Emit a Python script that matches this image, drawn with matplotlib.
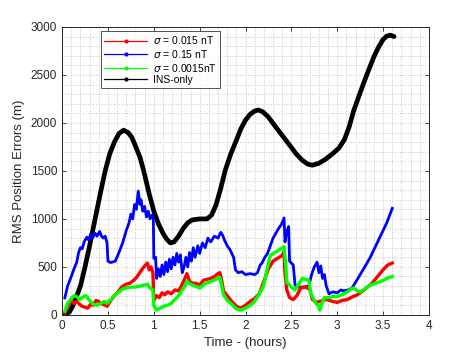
import matplotlib
matplotlib.use("Agg")
import matplotlib.pyplot as plt
from matplotlib.lines import Line2D
from matplotlib.ticker import MultipleLocator

plt.rcParams['font.family'] = ['Liberation Sans', 'DejaVu Sans']

# INS-only
t_ins = [0.03, 0.08, 0.12, 0.16, 0.2, 0.25, 0.3, 0.36, 0.42, 0.47, 0.52, 0.57, 0.62, 0.67, 0.72,
         0.76, 0.8, 0.85, 0.89, 0.95, 1.0, 1.05, 1.1, 1.14, 1.18, 1.22, 1.27, 1.32, 1.37, 1.42,
         1.5, 1.58, 1.63, 1.68, 1.73, 1.78, 1.84, 1.9, 1.95, 2.0, 2.05, 2.1, 2.14, 2.19, 2.25,
         2.32, 2.4, 2.48, 2.55, 2.62, 2.68, 2.73, 2.8, 2.87, 2.95, 3.02, 3.08, 3.13, 3.18, 3.24,
         3.29, 3.35, 3.4, 3.45, 3.5, 3.54, 3.58, 3.62]
e_ins = [0, 30, 100, 200, 300, 500, 720, 1000, 1280, 1500, 1680, 1800, 1890, 1925, 1900,
         1850, 1760, 1640, 1500, 1260, 1080, 950, 850, 790, 750, 760, 820, 900, 960, 990,
         1000, 1000, 1040, 1150, 1320, 1510, 1680, 1820, 1940, 2030, 2090, 2125, 2135, 2115, 2060,
         1970, 1870, 1770, 1680, 1610, 1570, 1560, 1580, 1620, 1680, 1740, 1830, 1960, 2130, 2290,
         2420, 2570, 2690, 2790, 2870, 2905, 2915, 2900]

# sigma = 0.15 nT
t_b = [0.03, 0.06, 0.10, 0.13, 0.16, 0.18, 0.20, 0.22, 0.24, 0.27, 0.29, 0.31, 0.33, 0.36, 0.38,
       0.41, 0.43, 0.45, 0.47, 0.49, 0.50, 0.53, 0.58, 0.62, 0.66, 0.70, 0.73, 0.75, 0.77, 0.79,
       0.81, 0.83, 0.85, 0.86, 0.88, 0.90, 0.92, 0.94, 0.96, 0.98, 0.995, 1.0, 1.02, 1.03, 1.05,
       1.07, 1.09, 1.11, 1.13, 1.15, 1.17, 1.19, 1.21, 1.23, 1.25, 1.27, 1.29, 1.31, 1.33, 1.35,
       1.37, 1.39, 1.41, 1.43, 1.45, 1.48, 1.50, 1.53, 1.56, 1.59, 1.62, 1.66, 1.70, 1.73, 1.75,
       1.77, 1.80, 1.83, 1.85, 1.87, 1.89, 1.92, 1.96, 2.0, 2.05, 2.1, 2.13, 2.16, 2.18, 2.21,
       2.24, 2.27, 2.30, 2.33, 2.36, 2.39, 2.42, 2.43, 2.45, 2.47, 2.48, 2.52, 2.54, 2.58, 2.64,
       2.69, 2.72, 2.75, 2.78, 2.80, 2.82, 2.84, 2.86, 2.88, 2.91, 2.95, 3.0, 3.04, 3.07, 3.12,
       3.16, 3.2, 3.25, 3.30, 3.36, 3.42, 3.48, 3.54, 3.6]
e_b = [177, 300, 400, 480, 550, 650, 700, 690, 760, 810, 780, 840, 800, 850, 820,
       870, 820, 800, 820, 750, 560, 545, 560, 650, 750, 880, 960, 1050, 1000, 1150,
       1100, 1290, 1150, 1200, 1080, 1130, 1020, 1080, 1000, 1040, 1000, 590, 600, 380, 480,
       400, 520, 420, 550, 450, 580, 480, 600, 520, 640, 550, 625, 440, 500, 600,
       500, 650, 560, 700, 600, 720, 640, 750, 700, 800, 760, 820, 800, 860, 830,
       780, 720, 680, 640, 600, 470, 440, 450, 420, 430, 420, 440, 520, 540, 600,
       640, 720, 800, 850, 900, 940, 1010, 760, 870, 920, 560, 520, 310, 290, 290,
       300, 420, 500, 550, 440, 510, 380, 420, 300, 220, 240, 230, 260, 250, 260,
       280, 340, 420, 500, 600, 720, 840, 960, 1110]

# sigma = 0.015 nT
t_r = [0.03, 0.06, 0.10, 0.13, 0.16, 0.19, 0.22, 0.25, 0.28, 0.31, 0.34, 0.37, 0.40, 0.42, 0.45,
       0.49, 0.53, 0.57, 0.61, 0.65, 0.70, 0.74, 0.78, 0.82, 0.86, 0.90, 0.93, 0.95, 0.97, 0.99,
       1.0, 1.03, 1.06, 1.09, 1.12, 1.15, 1.19, 1.23, 1.27, 1.30, 1.33, 1.36, 1.39, 1.42, 1.46,
       1.50, 1.54, 1.58, 1.62, 1.66, 1.70, 1.72, 1.74, 1.76, 1.80, 1.85, 1.90, 1.95, 2.0, 2.05,
       2.10, 2.15, 2.20, 2.25, 2.30, 2.35, 2.40, 2.42, 2.43, 2.45, 2.48, 2.52, 2.56, 2.60, 2.65,
       2.70, 2.73, 2.78, 2.84, 2.89, 2.95, 3.0, 3.05, 3.11, 3.17, 3.22, 3.28, 3.33, 3.38, 3.44,
       3.50, 3.55, 3.6]
e_r = [20, 90, 150, 120, 140, 110, 90, 80, 70, 110, 100, 150, 140, 120, 110,
       90, 150, 200, 240, 290, 320, 330, 360, 400, 460, 510, 540, 470, 500, 440,
       150, 200, 180, 230, 210, 240, 220, 260, 250, 300, 360, 430, 350, 330, 330,
       310, 360, 370, 380, 400, 430, 440, 360, 250, 200, 140, 90, 70, 100, 140,
       170, 220, 350, 480, 560, 590, 620, 660, 440, 260, 180, 160, 200, 280, 290,
       270, 160, 130, 150, 160, 140, 130, 150, 160, 190, 210, 250, 290, 330, 400,
       470, 520, 540]

# sigma = 0.0015 nT
t_g = [0.03, 0.06, 0.10, 0.13, 0.16, 0.19, 0.22, 0.25, 0.27, 0.30, 0.34, 0.38, 0.42, 0.46, 0.49,
       0.53, 0.57, 0.61, 0.66, 0.70, 0.75, 0.80, 0.85, 0.90, 0.93, 0.96, 0.99, 1.0, 1.03, 1.07,
       1.11, 1.15, 1.19, 1.23, 1.27, 1.31, 1.34, 1.36, 1.40, 1.45, 1.50, 1.55, 1.60, 1.65, 1.70,
       1.72, 1.74, 1.76, 1.80, 1.85, 1.90, 1.95, 2.0, 2.05, 2.09, 2.14, 2.20, 2.24, 2.27, 2.32,
       2.37, 2.42, 2.44, 2.45, 2.50, 2.54, 2.58, 2.62, 2.66, 2.69, 2.71, 2.74, 2.76, 2.79, 2.81,
       2.84, 2.86, 2.90, 2.95, 3.0, 3.05, 3.11, 3.15, 3.18, 3.22, 3.25, 3.30, 3.36, 3.42, 3.48,
       3.54, 3.6]
e_g = [40, 120, 170, 200, 190, 160, 180, 200, 190, 150, 110, 100, 120, 140, 120,
       160, 200, 230, 270, 280, 290, 290, 300, 310, 320, 280, 260, 100, 50, 70,
       90, 100, 120, 160, 200, 260, 300, 350, 320, 300, 280, 320, 340, 360, 380,
       390, 300, 210, 150, 110, 60, 50, 70, 100, 130, 200, 310, 500, 620, 650,
       680, 710, 500, 340, 290, 260, 320, 380, 370, 360, 230, 170, 130, 100, 50,
       140, 180, 180, 190, 190, 210, 240, 270, 280, 250, 240, 270, 310, 330, 350,
       380, 400]

labels = ['$\\sigma$ = 0.015 nT', '$\\sigma$ = 0.15 nT', '$\\sigma$ = 0.0015nT', 'INS-only']
colors = ['#ff0000', '#0000ff', '#00ff00', '#000000']

fig = plt.figure(figsize=(4.74, 3.55), dpi=100)
ax = fig.add_axes([0.131, 0.113, 0.774, 0.811])

ax.plot(t_ins, e_ins, color=colors[3], lw=3.4, solid_capstyle='round',
        solid_joinstyle='round', zorder=2)
ax.plot(t_b, e_b, color=colors[1], lw=2.0, zorder=3)
ax.plot(t_r, e_r, color=colors[0], lw=2.4, zorder=4)
ax.plot(t_g, e_g, color=colors[2], lw=2.4, zorder=5)

ax.set_xlim(0, 4)
ax.set_ylim(0, 3000)
ax.xaxis.set_major_locator(MultipleLocator(0.5))
ax.yaxis.set_major_locator(MultipleLocator(500))
ax.xaxis.set_minor_locator(MultipleLocator(0.1))
ax.yaxis.set_minor_locator(MultipleLocator(100))
ax.grid(which='both', linestyle=':', color='#c8c8c8', lw=0.7)
ax.set_axisbelow(True)
ax.tick_params(which='major', direction='in', top=True, right=True, length=3,
               labelsize=8.5, colors='#262626', width=0.6)
ax.tick_params(which='minor', length=0)
ax.set_xticks([0, 0.5, 1, 1.5, 2, 2.5, 3, 3.5, 4], ['0', '0.5', '1', '1.5', '2', '2.5', '3', '3.5', '4'])
for s in ax.spines.values():
    s.set_color('#262626')
    s.set_linewidth(0.7)

ax.set_xlabel('Time - (hours)', fontsize=9.5, color='#262626', labelpad=4)
ax.set_ylabel('RMS Position Errors (m)', fontsize=9.5, color='#262626', labelpad=4)

handles = [Line2D([0], [0], color=c, lw=0.9, marker='.', markersize=4) for c in colors]
leg = ax.legend(handles, labels, loc='upper left', bbox_to_anchor=(0.105, 0.985),
                fontsize=7.5, frameon=True, fancybox=False, handlelength=4.2,
                borderpad=0.3, labelspacing=0.15, handletextpad=0.5, borderaxespad=0)
leg.get_frame().set_edgecolor('#262626')
leg.get_frame().set_linewidth(0.7)

fig.savefig('out.png', dpi=100)
